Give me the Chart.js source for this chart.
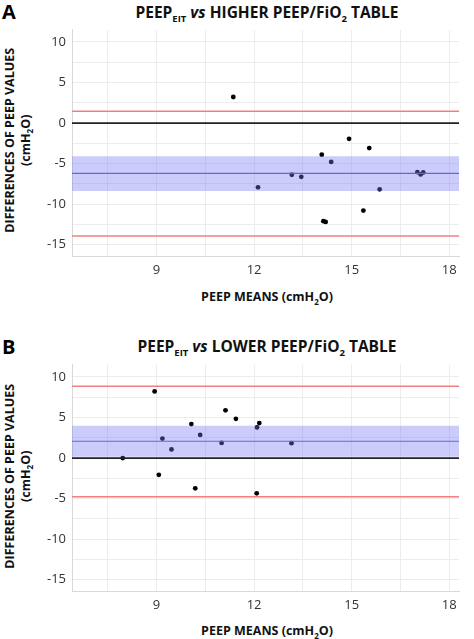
<!DOCTYPE html>
<html><head><meta charset="utf-8">
<script src="https://cdn.jsdelivr.net/npm/chart.js@4"></script>
<style>
body{margin:0;background:#fff;font-family:"Open Sans",sans-serif;width:474px;height:639px;position:relative;overflow:hidden}
.t{position:absolute;left:72px;width:390px;text-align:center;font-weight:bold;font-size:15.5px;color:#111}
.lab{position:absolute;font-weight:bold;font-size:20px;left:2px}
.xl{position:absolute;left:72px;width:390px;text-align:center;font-weight:bold;font-size:12.5px;color:#111}
.yl{position:absolute;width:230px;text-align:center;font-weight:bold;font-size:12.5px;line-height:16px;color:#111;transform:rotate(-90deg);transform-origin:center}
.c{position:absolute;left:38px;width:425px;height:266px}
</style></head><body>
<div class="lab" style="top:-2px">A</div>
<div class="t" style="top:1px">PEEP<sub style="font-size:9.5px">EIT</sub> <i>vs</i> HIGHER PEEP/FiO<sub style="font-size:9.5px">2</sub> TABLE</div>
<div class="yl" style="left:-95px;top:122px">DIFFERENCES OF PEEP VALUES<br>(cmH<sub style="font-size:8px">2</sub>O)</div>
<div class="c" style="top:16px"><canvas id="a"></canvas></div>
<div class="xl" style="top:288px">PEEP MEANS (cmH<sub style="font-size:8px">2</sub>O)</div>

<div class="lab" style="top:333px">B</div>
<div class="t" style="top:335px">PEEP<sub style="font-size:9.5px">EIT</sub> <i>vs</i> LOWER PEEP/FiO<sub style="font-size:9.5px">2</sub> TABLE</div>
<div class="yl" style="left:-95px;top:458px">DIFFERENCES OF PEEP VALUES<br>(cmH<sub style="font-size:8px">2</sub>O)</div>
<div class="c" style="top:351px"><canvas id="b"></canvas></div>
<div class="xl" style="top:622px">PEEP MEANS (cmH<sub style="font-size:8px">2</sub>O)</div>
<script>
const xTicks=[7.5,9,10.5,12,13.5,15,16.5,18];
const yTicks=[-15,-12.5,-10,-7.5,-5,-2.5,0,2.5,5,7.5,10];
const highX=[11.36,12.12,13.16,13.45,14.08,14.37,14.13,14.2,14.92,15.54,15.36,15.86,17.02,17.12,17.2];
const highY=[3.21,-7.93,-6.38,-6.63,-3.9,-4.8,-12.1,-12.2,-1.95,-3.09,-10.8,-8.17,-6.06,-6.34,-6.1];
const highLines={upper:1.46,lower:-13.94,mean:-6.22,bandHi:-4.1,bandLo:-8.37};
const lowX=[7.96,8.94,9.07,9.18,9.46,10.07,10.19,10.34,11.0,11.12,11.44,12.09,12.16,12.08,13.15];
const lowY=[0,8.21,-2.07,2.4,1.06,4.19,-3.74,2.85,1.87,5.89,4.84,3.78,4.31,-4.35,1.83];
const lowLines={upper:8.86,lower:-4.76,mean:2.07,bandHi:3.98,bandLo:0.16};
const XMIN=6.4,XMAX=18.3,YMIN=-16.4,YMAX=11.5;
function hl(v,color,w,extra){return Object.assign({type:'line',data:[{x:XMIN,y:v},{x:XMAX,y:v}],borderColor:color,borderWidth:w,pointRadius:0},extra||{});}
function make(id,xs,ys,L){
 const pts=xs.map((x,i)=>({x,y:ys[i]}));
 new Chart(document.getElementById(id),{type:'scatter',
 data:{datasets:[
  hl(L.bandHi,'rgba(0,0,0,0)',0,{fill:false}),
  hl(L.bandLo,'rgba(0,0,0,0)',0,{fill:'-1',backgroundColor:'rgba(120,120,245,0.38)'}),
  hl(L.mean,'#5656e0',1.2),
  hl(L.upper,'#f08080',1.5),
  hl(L.lower,'#f08080',1.5),
  hl(0,'#222',1.8),
  {type:'scatter',data:pts,backgroundColor:'#000',borderWidth:0,pointRadius:2.4}
 ]},
 options:{responsive:true,maintainAspectRatio:false,animation:false,
  layout:{padding:0},
  plugins:{legend:{display:false},tooltip:{enabled:false}},
  scales:{
   x:{type:'linear',min:XMIN,max:XMAX,afterBuildTicks:s=>{s.ticks=xTicks.map(v=>({value:v}))},
      afterFit:s=>{s.height=26},
      grid:{color:'#ececec',drawTicks:false},border:{color:'#d8d8d8'},
      ticks:{autoSkip:false,maxRotation:0,padding:6,color:'#333',font:{size:13,family:'Open Sans'},callback:v=>v%3===0?v:''}},
   y:{type:'linear',min:YMIN,max:YMAX,afterBuildTicks:s=>{s.ticks=yTicks.map(v=>({value:v}))},
      afterFit:s=>{s.width=34},
      grid:{color:'#ececec',drawTicks:false},border:{color:'#d8d8d8'},
      ticks:{autoSkip:false,padding:6,color:'#333',font:{size:13,family:'Open Sans'},callback:v=>v%5===0?v:''}}
  }}});
}
make('a',highX,highY,highLines);
make('b',lowX,lowY,lowLines);
</script></body></html>
